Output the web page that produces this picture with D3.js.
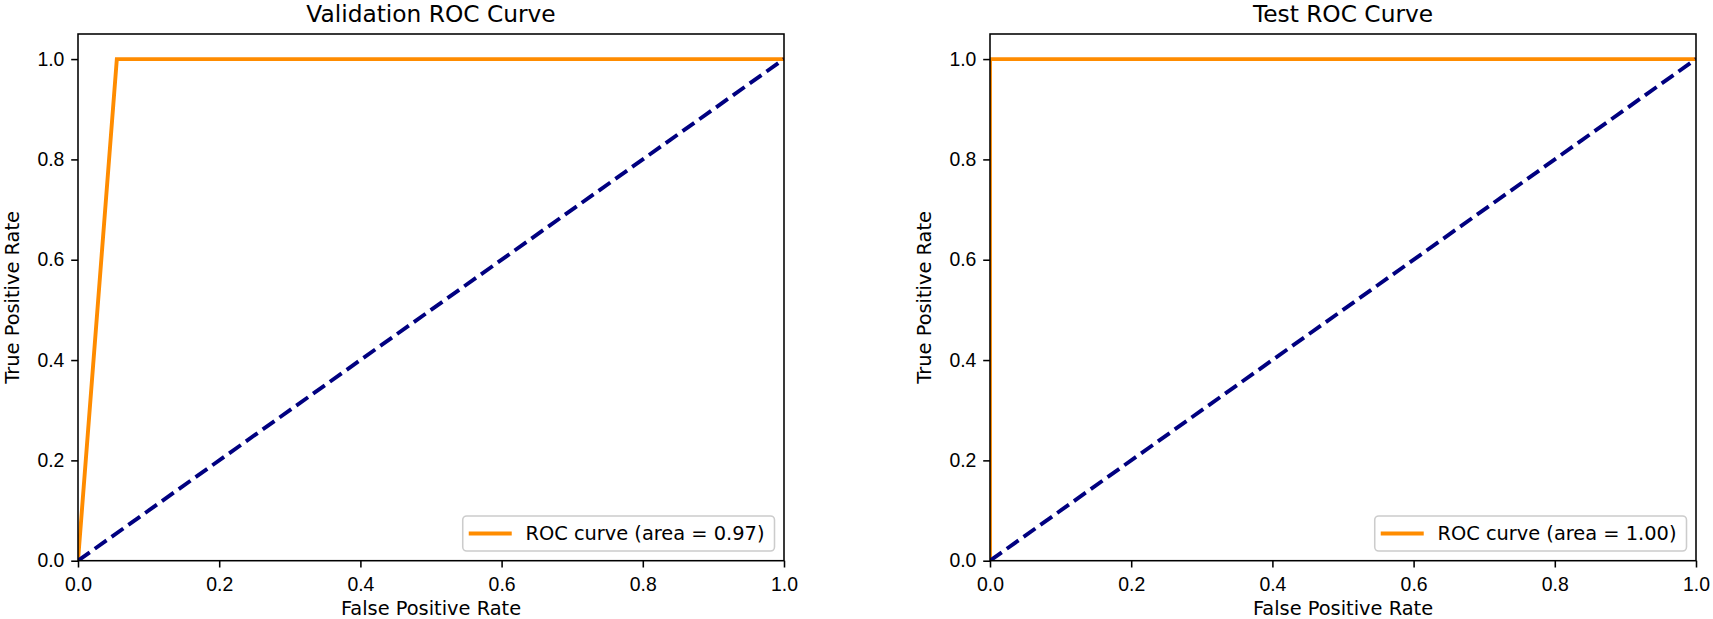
<!DOCTYPE html>
<html lang="en">
<head>
    <meta charset="UTF-8">
    <title>ROC Curves</title>
    <script src="https://d3js.org/d3.v7.min.js"></script>
    <style>
        body { margin: 0; background: #fff; }
        svg { display: block; font-family: "DejaVu Sans", sans-serif; }
        .tick line { stroke: #000; stroke-width: 1.55; }
        .tick text { font-size: 19.4px; fill: #000; }
    </style>
</head>
<body>
    <svg id="chart" width="1713" height="619"></svg>
    <script>
        // data
        const valFpr = [0, 0.055, 1];
        const valTpr = [0, 1, 1];
        const testFpr = [0, 0, 1];
        const testTpr = [0, 1, 1];
        const chanceLine = [0, 1];
        const tickValues = [0, 0.2, 0.4, 0.6, 0.8, 1.0];

        const panels = [
            { title: "Validation ROC Curve", fpr: valFpr, tpr: valTpr, label: "ROC curve (area = 0.97)", left: 78 },
            { title: "Test ROC Curve", fpr: testFpr, tpr: testTpr, label: "ROC curve (area = 1.00)", left: 990 }
        ];

        const plotW = 706;
        const plotTop = 34;
        const plotBottom = 560.7;

        const svg = d3.select("#chart");

        panels.forEach((p, i) => {
            const x = d3.scaleLinear().domain([0, 1]).range([p.left, p.left + plotW]);
            const y = d3.scaleLinear().domain([0, 1.05]).range([plotBottom, plotTop]);

            const g = svg.append("g");

            g.append("clipPath")
                .attr("id", "clip" + i)
                .append("rect")
                .attr("x", x(0)).attr("y", y(1.05))
                .attr("width", x(1) - x(0)).attr("height", y(0) - y(1.05));

            const line = d3.line().x(d => x(d[0])).y(d => y(d[1]));

            g.append("path")
                .datum(p.fpr.map((f, k) => [f, p.tpr[k]]))
                .attr("clip-path", `url(#clip${i})`)
                .attr("d", line)
                .attr("fill", "none")
                .attr("stroke", "#ff8c00")
                .attr("stroke-width", 3.9)
                .attr("stroke-linejoin", "miter");

            g.append("path")
                .datum(chanceLine.map(v => [v, v]))
                .attr("clip-path", `url(#clip${i})`)
                .attr("d", line)
                .attr("fill", "none")
                .attr("stroke", "#000080")
                .attr("stroke-width", 3.9)
                .attr("stroke-dasharray", "14.4,6.2");

            // axes
            const xAxis = g.append("g")
                .attr("transform", `translate(0,${plotBottom})`)
                .call(d3.axisBottom(x).tickValues(tickValues).tickFormat(d3.format(".1f"))
                    .tickSize(6.8).tickSizeOuter(0).tickPadding(10));
            xAxis.select(".domain").remove();

            const yAxis = g.append("g")
                .attr("transform", `translate(${p.left},0)`)
                .call(d3.axisLeft(y).tickValues(tickValues).tickFormat(d3.format(".1f"))
                    .tickSize(6.8).tickSizeOuter(0).tickPadding(6.8));
            yAxis.select(".domain").remove();

            g.selectAll(".tick text").attr("font-size", null).attr("font-family", null);

            // frame
            g.append("rect")
                .attr("x", x(0)).attr("y", y(1.05))
                .attr("width", x(1) - x(0)).attr("height", y(0) - y(1.05))
                .attr("fill", "none")
                .attr("stroke", "#000")
                .attr("stroke-width", 1.55);

            // titles and labels
            g.append("text")
                .attr("x", (x(0) + x(1)) / 2).attr("y", 22.4)
                .attr("text-anchor", "middle")
                .attr("font-size", "23.3px")
                .text(p.title);

            g.append("text")
                .attr("x", (x(0) + x(1)) / 2).attr("y", 615)
                .attr("text-anchor", "middle")
                .attr("font-size", "19.4px")
                .text("False Positive Rate");

            g.append("text")
                .attr("transform", `translate(${p.left - 59},${(plotTop + plotBottom) / 2}) rotate(-90)`)
                .attr("text-anchor", "middle")
                .attr("font-size", "19.4px")
                .text("True Positive Rate");

            // legend
            const leg = g.append("g");
            const box = leg.append("rect")
                .attr("fill", "#fff")
                .attr("fill-opacity", 0.8)
                .attr("stroke", "#cccccc")
                .attr("stroke-width", 1.55)
                .attr("rx", 4);
            const txt = leg.append("text")
                .attr("font-size", "19.4px")
                .text(p.label);
            const tw = txt.node().getComputedTextLength();
            const bw = 62.7 + tw + 10;
            const bh = 35;
            const bx = x(1) - 9.5 - bw;
            const by = y(0) - 9.7 - bh;
            box.attr("x", bx).attr("y", by).attr("width", bw).attr("height", bh);
            txt.attr("x", bx + 62.7).attr("y", by + bh / 2 + 6.8);
            leg.append("line")
                .attr("x1", bx + 6).attr("x2", bx + 49)
                .attr("y1", by + bh / 2).attr("y2", by + bh / 2)
                .attr("stroke", "#ff8c00")
                .attr("stroke-width", 3.9);
        });
    </script>
</body>
</html>
